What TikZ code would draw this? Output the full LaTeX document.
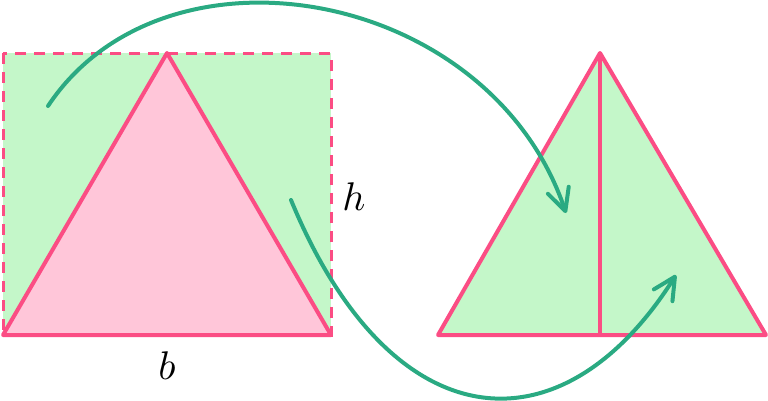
\documentclass[tikz,border=0pt]{standalone}
\usepackage{amsmath}
\usetikzlibrary{arrows.meta}

\definecolor{edgepink}{HTML}{FB4D84}
\definecolor{fillpink}{HTML}{FFC6D9}
\definecolor{fillgreen}{HTML}{C4F7C9}
\definecolor{arrowteal}{HTML}{2AAA82}

\tikzset{
  side/.style={draw=edgepink, line width=4pt, line join=round},
  move/.style={draw=arrowteal, line width=4pt, line cap=round,
    -{Straight Barb[length=22pt, width=22pt, line width=4pt, round]}},
  measure/.style={inner sep=0pt, scale=4, transform shape}
}

\begin{document}
\begin{tikzpicture}[x=1pt, y=-1pt]
			\useasboundingbox (0,0) rectangle (768,400);
			% left: rectangle round the triangle
			\coordinate (A) at (3,335);
			\coordinate (B) at (331,335);
			\coordinate (C) at (167,53);
			\fill[fillgreen] (3,53) rectangle (331,335);
			\draw[draw=edgepink, line width=3pt, dash pattern=on 11pt off 8pt] (3,53) rectangle (331,335);
			\draw[side, fill=fillpink] (A) -- (B) -- (C) -- cycle;
			\node (b) at (167,366) [measure] {$b$};
			\node (h) at (354,197) [measure] {$h$};
			% right: the two halves
			\coordinate (D) at (438,335);
			\coordinate (E) at (766,335);
			\coordinate (F) at (600,53);
			\coordinate (G) at (600,335);
			\draw[side, fill=fillgreen] (D) -- (E) -- (F) -- cycle;
			\draw[side] (F) -- (G);
			% arrows
			\coordinate (s1) at (48,106);
			\coordinate (e1) at (566,213);
			\coordinate (s2) at (291,200);
			\coordinate (e2) at (676,275);
			\draw[move] (s1) .. controls (165,-70) and (490,-12) .. (e1);
			\draw[move] (s2) .. controls (390,440) and (560,458) .. (e2);
		\end{tikzpicture}
\end{document}
